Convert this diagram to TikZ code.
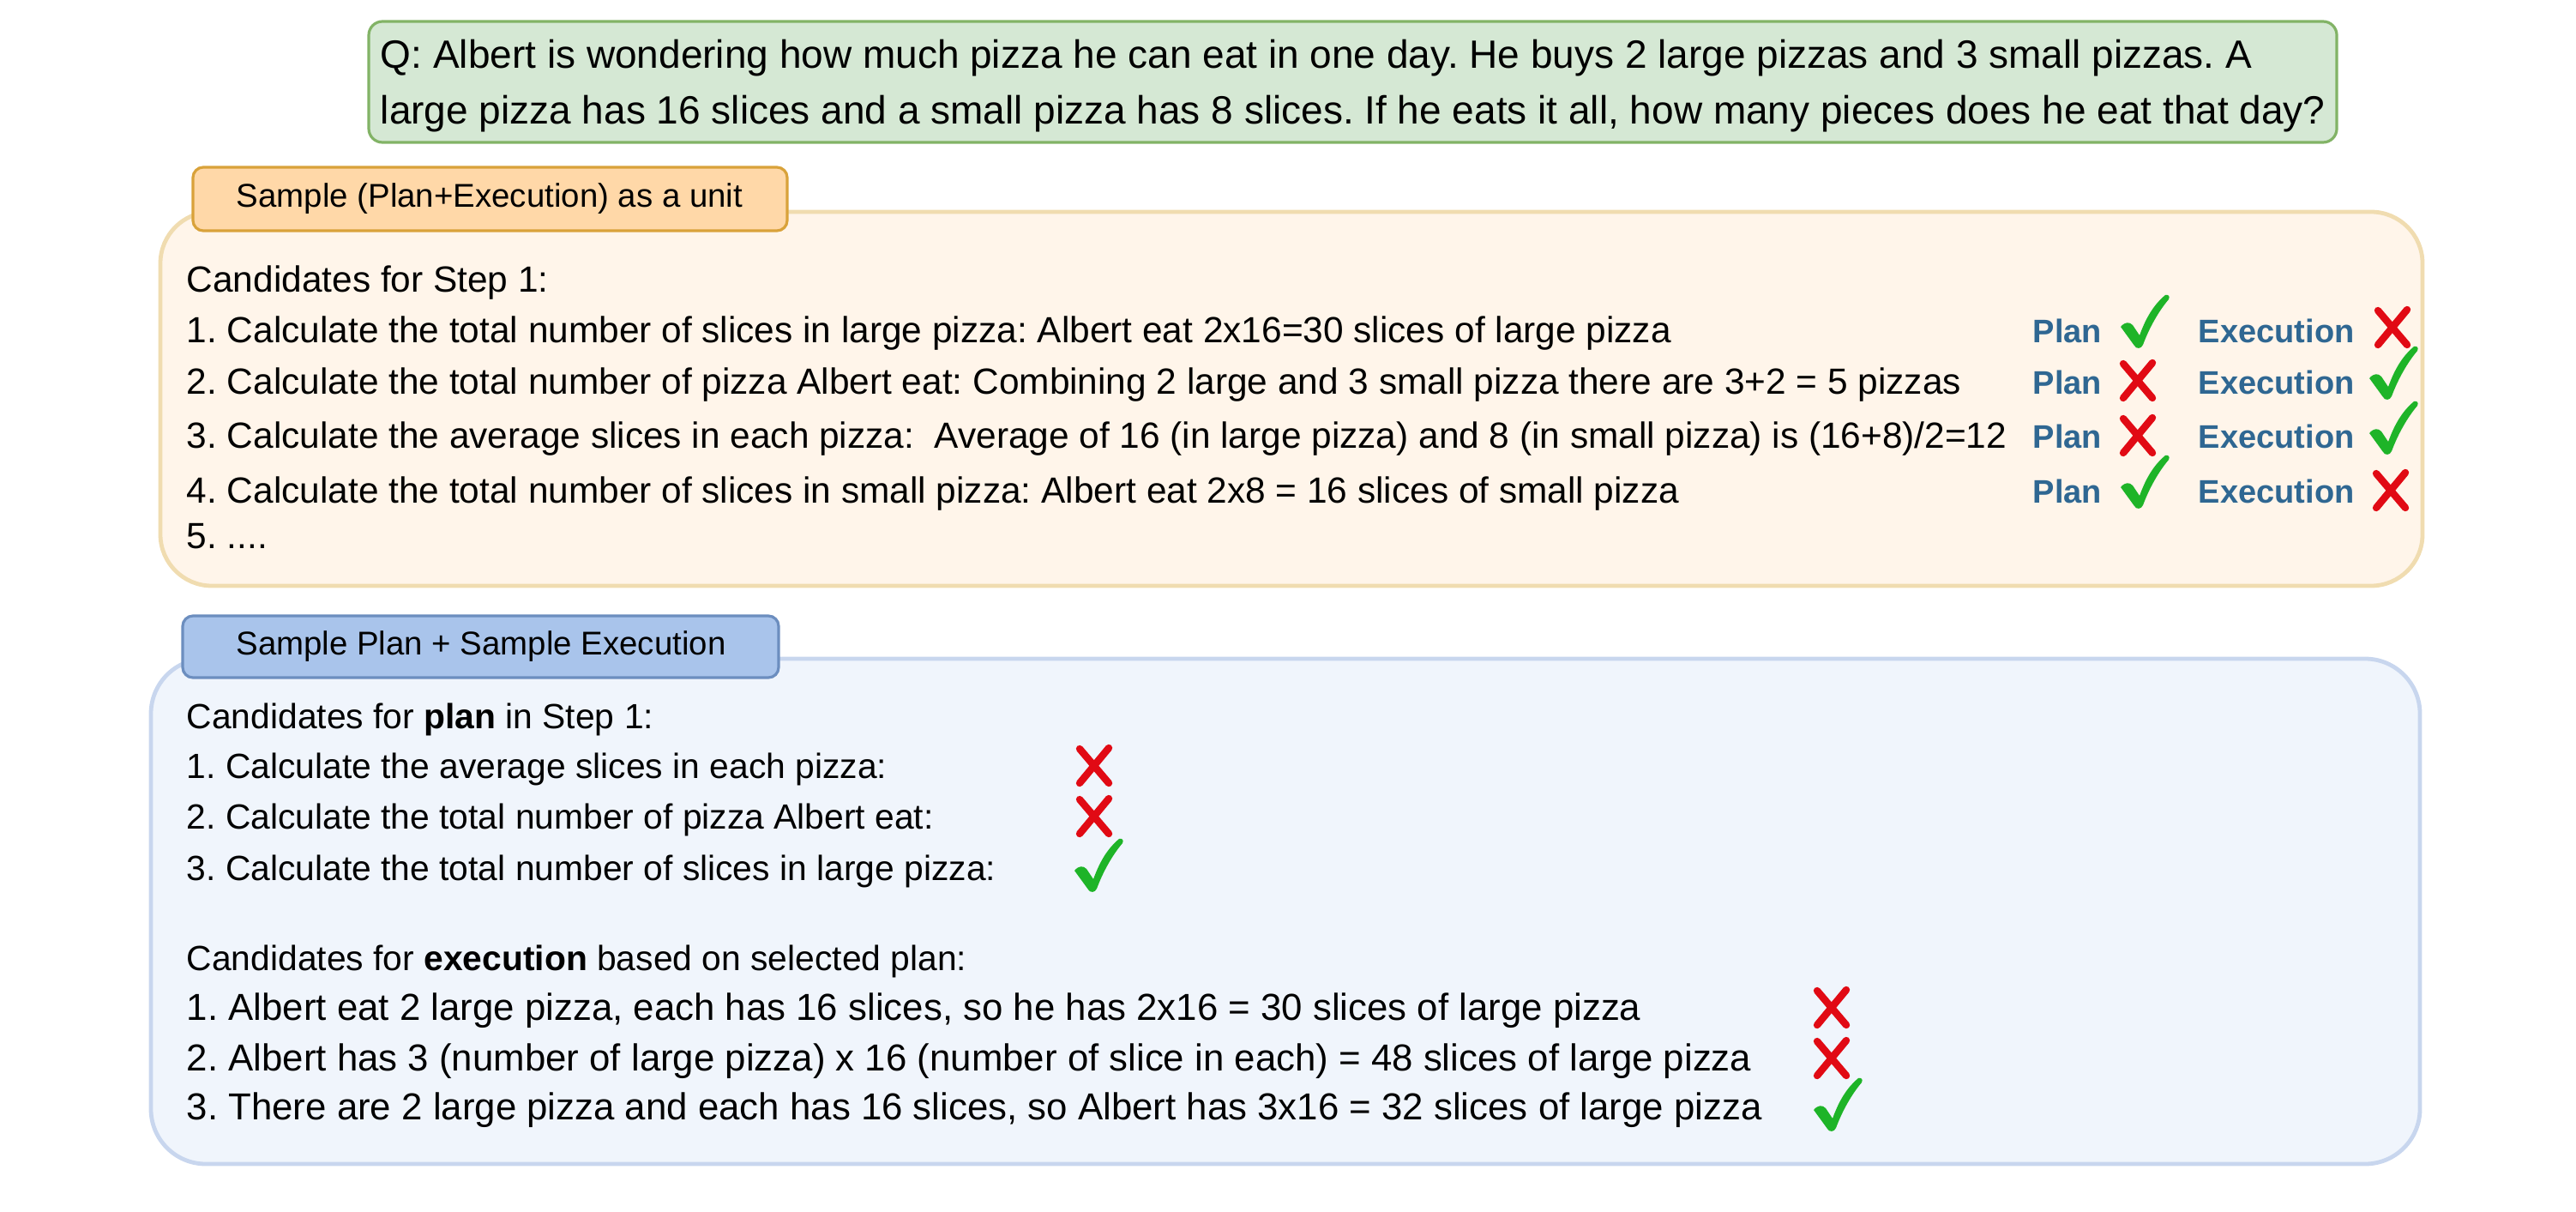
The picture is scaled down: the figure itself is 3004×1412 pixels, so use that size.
\documentclass[tikz,border=0pt]{standalone}
\usepackage{fontspec}
\setmainfont{Liberation Sans}
\usetikzlibrary{positioning}
\frenchspacing

\definecolor{qfill}{HTML}{D5E8D4}
\definecolor{qline}{HTML}{82B366}
\definecolor{unitfill}{HTML}{FFF5EA}
\definecolor{unitline}{HTML}{F0DCB0}
\definecolor{unittab}{HTML}{FFD8A8}
\definecolor{unittabline}{HTML}{D9A23A}
\definecolor{splitfill}{HTML}{F0F5FC}
\definecolor{splitline}{HTML}{C8D6EE}
\definecolor{splittab}{HTML}{A9C4EB}
\definecolor{splittabline}{HTML}{6C8EBF}
\definecolor{tagblue}{RGB}{47,103,146}
\definecolor{okgreen}{RGB}{30,180,40}
\definecolor{badred}{RGB}{225,10,20}

\tikzset{
  txt/.style={anchor=base west, inner sep=0pt, font=\fontsize{10.6}{12}\selectfont},
  plantxt/.style={txt, font=\fontsize{10.2}{12}\selectfont},
  exectxt/.style={txt, font=\fontsize{10.95}{12}\selectfont},
  tag/.style={txt, font=\fontsize{9.5}{11}\selectfont\bfseries, text=tagblue},
  tabtxt/.style={inner sep=0pt, font=\fontsize{9.6}{11}\selectfont},
  okmark/.style={minimum width=15pt, minimum height=16pt, inner sep=0pt,
    path picture={\fill[okgreen, shift={(path picture bounding box.center)}, scale=0.92]
      (-27,6) .. controls (-22,0) and (-17,0) .. (-13,4) -- (-5,16)
      .. controls (3,-6) and (12,-20) .. (25,-31)
      .. controls (28,-32) and (31,-30) .. (29,-26)
      .. controls (17,-12) and (6,8) .. (-1,27)
      .. controls (-3,32) and (-9,32) .. (-11,28) -- cycle;}},
  badmark/.style={minimum width=12pt, minimum height=13pt, inner sep=0pt,
    path picture={\draw[badred, line width=2.1pt, line cap=round, shift={(path picture bounding box.center)}]
      (-17,-20) -- (17,20) (17,-21) -- (-17,20);}}
}

\begin{document}
\begin{tikzpicture}[x=0.25pt, y=-0.25pt]
  \useasboundingbox (0,0) rectangle (3004,1412);

  % question
  \draw[fill=qfill, draw=qline, line width=0.8pt, rounded corners=4pt] (430,25) rectangle (2725,166);
  \node[txt, font=\fontsize{11.5}{16.3}\selectfont, align=left, anchor=north west] (question) at (443,45)
    {Q: Albert is wondering how much pizza he can eat in one day. He buys 2 large pizzas and 3 small pizzas. A\\
     large pizza has 16 slices and a small pizza has 8 slices. If he eats it all, how many pieces does he eat that day?};

  % sample (plan+execution) as a unit
  \draw[fill=unitfill, draw=unitline, line width=1.2pt, rounded corners=15pt] (187,247) rectangle (2825,683);
  \draw[fill=unittab, draw=unittabline, line width=0.8pt, rounded corners=3pt] (225,195) rectangle (918,269);
  \node[tabtxt] (unitlbl) at (571,232) {Sample (Plan+Execution) as a unit};

  \node[txt] (uhead) at (217,340) {Candidates for Step 1:};
  \node[txt] (u1) at (217,399) {1. Calculate the total number of slices in large pizza: Albert eat 2x16=30 slices of large pizza};
  \node[txt] (u2) at (217,459) {2. Calculate the total number of pizza Albert eat: Combining 2 large and 3 small pizza there are 3+2 = 5 pizzas};
  \node[txt] (u3) at (217,522) {3. Calculate the average slices in each pizza:\ \ Average of 16 (in large pizza) and 8 (in small pizza) is (16+8)/2=12};
  \node[txt] (u4) at (217,586) {4. Calculate the total number of slices in small pizza: Albert eat 2x8 = 16 slices of small pizza};
  \node[txt] (u5) at (217,639) {5. ....};

  \node[tag] (u1plan) at (2370,399) {Plan};
  \node[tag] (u2plan) at (2370,459) {Plan};
  \node[tag] (u3plan) at (2370,522) {Plan};
  \node[tag] (u4plan) at (2370,586) {Plan};
  \node[tag] (u1exec) at (2563,399) {Execution};
  \node[tag] (u2exec) at (2563,459) {Execution};
  \node[tag] (u3exec) at (2563,522) {Execution};
  \node[tag] (u4exec) at (2563,586) {Execution};

  \node[okmark] (u1planok) at (2500,375) {};
  \node[badmark] (u2planno) at (2493,444) {};
  \node[badmark] (u3planno) at (2493,508) {};
  \node[okmark] (u4planok) at (2500,562) {};
  \node[badmark] (u1execno) at (2790,382) {};
  \node[okmark] (u2execok) at (2790,435) {};
  \node[okmark] (u3execok) at (2790,499) {};
  \node[badmark] (u4execno) at (2788,572) {};

  % sample plan + sample execution
  \draw[fill=splitfill, draw=splitline, line width=1.2pt, rounded corners=16pt] (176,768) rectangle (2822,1357);
  \draw[fill=splittab, draw=splittabline, line width=0.8pt, rounded corners=3pt] (213,718) rectangle (908,790);
  \node[tabtxt] (splitlbl) at (561,754) {Sample Plan + Sample Execution};

  \node[plantxt] (phead) at (217,849) {Candidates for \textbf{plan} in Step 1:};
  \node[plantxt] (p1) at (217,907) {1. Calculate the average slices in each pizza:};
  \node[plantxt] (p2) at (217,966) {2. Calculate the total number of pizza Albert eat:};
  \node[plantxt] (p3) at (217,1026) {3. Calculate the total number of slices in large pizza:};
  \node[badmark] (p1no) at (1276,893) {};
  \node[badmark] (p2no) at (1276,952) {};
  \node[okmark] (p3ok) at (1280,1009) {};

  \node[plantxt] (ehead) at (217,1131) {Candidates for \textbf{execution} based on selected plan:};
  \node[exectxt] (e1) at (217,1189) {1. Albert eat 2 large pizza, each has 16 slices, so he has 2x16 = 30 slices of large pizza};
  \node[exectxt] (e2) at (217,1248) {2. Albert has 3 (number of large pizza) x 16 (number of slice in each) = 48 slices of large pizza};
  \node[exectxt] (e3) at (217,1305) {3. There are 2 large pizza and each has 16 slices, so Albert has 3x16 = 32 slices of large pizza};
  \node[badmark] (e1no) at (2136,1175) {};
  \node[badmark] (e2no) at (2136,1234) {};
  \node[okmark] (e3ok) at (2142,1288) {};
\end{tikzpicture}
\end{document}
